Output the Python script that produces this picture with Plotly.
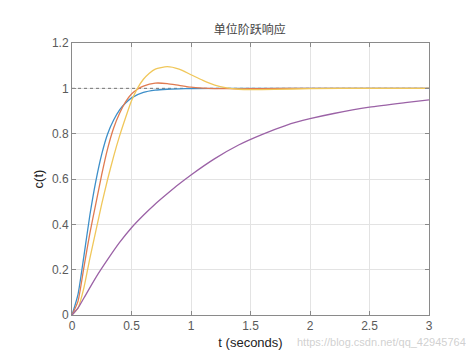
import plotly.graph_objects as go

# ---- data ----
t_blue = [0, 0.05, 0.1, 0.15, 0.2, 0.25, 0.3, 0.35, 0.4, 0.45, 0.5, 0.6, 0.7, 0.8, 0.9, 1.0, 1.5, 2.0, 2.5, 3.0]
c_blue = [0, 0.09, 0.26, 0.44, 0.59, 0.71, 0.80, 0.86, 0.905, 0.935, 0.958, 0.982, 0.992, 0.996, 0.998, 0.999, 1.0, 1.0, 1.0, 1.0]

t_red = [0, 0.05, 0.1, 0.15, 0.2, 0.25, 0.3, 0.35, 0.4, 0.45, 0.5, 0.55, 0.6, 0.7, 0.8, 0.9, 1.0, 1.1, 1.2, 1.4, 1.6, 2.0, 2.5, 3.0]
c_red = [0, 0.06, 0.21, 0.36, 0.49, 0.62, 0.735, 0.825, 0.89, 0.94, 0.975, 0.996, 1.01, 1.023, 1.021, 1.013, 1.005, 1.001, 0.999, 0.998, 0.999, 1.0, 1.0, 1.0]

t_yellow = [0, 0.05, 0.1, 0.15, 0.2, 0.25, 0.3, 0.35, 0.4, 0.45, 0.5, 0.55, 0.6, 0.65, 0.7, 0.8, 0.9, 1.0, 1.1, 1.2, 1.3, 1.4, 1.5, 1.7, 2.0, 2.5, 3.0]
c_yellow = [0, 0.03, 0.12, 0.25, 0.37, 0.49, 0.60, 0.70, 0.79, 0.87, 0.945, 1.0, 1.04, 1.067, 1.085, 1.096, 1.085, 1.06, 1.035, 1.014, 1.002, 0.996, 0.994, 0.995, 0.999, 1.0, 1.0]

t_purple = [0, 0.05, 0.1, 0.2, 0.3, 0.4, 0.5, 0.6, 0.7, 0.8, 0.9, 1.0, 1.2, 1.4, 1.6, 1.8, 2.0, 2.2, 2.5, 2.8, 3.0]
c_purple = [0, 0.03, 0.075, 0.165, 0.245, 0.32, 0.385, 0.44, 0.49, 0.535, 0.578, 0.618, 0.69, 0.75, 0.797, 0.837, 0.866, 0.889, 0.917, 0.937, 0.949]

steady_value = 1.0

x_ticks = [0, 0.5, 1, 1.5, 2, 2.5, 3]
x_tick_labels = ["0", "0.5", "1", "1.5", "2", "2.5", "3"]
y_ticks = [0, 0.2, 0.4, 0.6, 0.8, 1.0, 1.2]
y_tick_labels = ["0", "0.2", "0.4", "0.6", "0.8", "1", "1.2"]

title_text = "单位阶跃响应"
x_title = "t (seconds)"
y_title = "c(t)"
watermark = "https://blog.csdn.net/qq_42945764"

series = [
    (t_blue, c_blue, "#3d8fc9"),
    (t_red, c_red, "#e07a50"),
    (t_yellow, c_yellow, "#f0c75a"),
    (t_purple, c_purple, "#9b62a6"),
]

fig = go.Figure()
# steady-state dotted reference line (drawn first, under the curves)
fig.add_trace(go.Scatter(x=[t_blue[0], t_blue[-1]], y=[steady_value, steady_value], mode="lines",
                         line=dict(color="#555555", width=0.8, dash="dot"),
                         showlegend=False, hoverinfo="skip"))

for tx, cy, col in series:
    fig.add_trace(go.Scatter(x=tx, y=cy, mode="lines",
                             line=dict(color=col, width=1.3, shape="spline", smoothing=0.6),
                             showlegend=False, hoverinfo="skip"))

axis_common = dict(
    showline=True, linecolor="#8a8a8a", linewidth=1, mirror="ticks",
    ticks="inside", ticklen=4, tickcolor="#8a8a8a",
    showgrid=True, gridcolor="#e3e3e3", gridwidth=1,
    zeroline=False, automargin=False,
    tickfont=dict(family="Liberation Sans, Arial, sans-serif", size=12, color="#5a5a5a"),
)

fig.update_xaxes(range=[0, 3], tickvals=x_ticks, ticktext=x_tick_labels,
                 title=dict(text=x_title, font=dict(family="Liberation Sans, Arial, sans-serif", size=13, color="#222222"), standoff=5),
                 **axis_common)
fig.update_yaxes(range=[0, 1.2], tickvals=y_ticks, ticktext=y_tick_labels,
                 title=dict(text=y_title, font=dict(family="Liberation Sans, Arial, sans-serif", size=13, color="#222222"), standoff=5),
                 **axis_common)

# the page body adds an 8px offset, so the figure is 8px smaller than the window
fig.update_layout(
    width=466, height=347,
    margin=dict(l=64, r=45, t=35, b=40, autoexpand=False),
    paper_bgcolor="white", plot_bgcolor="white",
    title=dict(text=title_text, x=0.519, xanchor="center", y=0.937, yanchor="middle",
               font=dict(family="Noto Sans CJK SC", size=12, color="#444444")),
    annotations=[dict(text=watermark, xref="paper", yref="paper", x=1.109, y=-0.099,
                      xanchor="right", yanchor="middle", showarrow=False,
                      font=dict(family="Liberation Sans, Arial, sans-serif", size=11, color="rgba(200,200,200,0.85)"))],
)

fig.write_html("out.html")
